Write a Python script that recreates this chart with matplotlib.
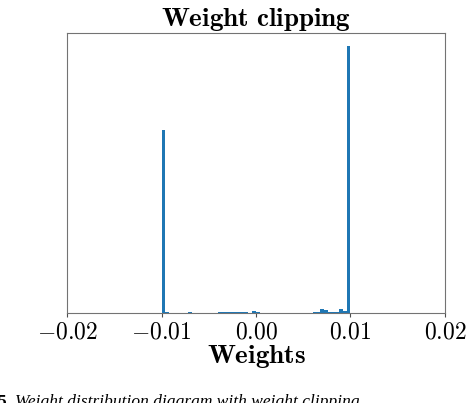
import numpy as np
import matplotlib
matplotlib.use("Agg")
import matplotlib.pyplot as plt

plt.rcParams['mathtext.fontset'] = 'cm'

# histogram of clipped weights: 50 bins on [-0.01, 0.01], counts
bin_edges = np.linspace(-0.01, 0.01, 51)
bin_counts = [685, 5, 0, 0, 0, 0, 1, 4, 1, 0,
              0, 0, 0, 0, 1, 3, 2, 3, 3, 2,
              3, 3, 2, 1, 8, 2, 0, 0, 0, 0,
              0, 0, 0, 0, 0, 0, 0, 0, 0, 1,
              2, 4, 15, 10, 5, 5, 4, 14, 6, 1000]
tick_values = [-0.02, -0.01, 0.00, 0.01, 0.02]
tick_labels = [r'$-0.02$', r'$-0.01$', r'$0.00$', r'$0.01$', r'$0.02$']

fig = plt.figure(figsize=(4.74, 4.03), dpi=100)
ax = fig.add_axes([0.1414, 0.2233, 0.7974, 0.6947])

centers = (bin_edges[:-1] + bin_edges[1:]) / 2
ax.hist(centers, bins=bin_edges, weights=bin_counts, color='#1f77b4')

ax.set_xlim(-0.02, 0.02)
ax.set_xticks(tick_values)
ax.set_xticklabels(tick_labels, fontsize=17)
ax.set_yticks([])
ax.tick_params(axis='x', length=3, pad=2, color='0.3')
for s in ax.spines.values():
    s.set_color('0.45')

ax.set_title(r'$\mathbf{Weight\ clipping}$', fontsize=19.5, pad=4)
ax.set_xlabel(r'$\mathbf{Weights}$', fontsize=19.5, labelpad=-1)

# figure caption, cut off at the bottom edge like the source
fig.text(-3 / 474, -3 / 403, '5', fontsize=12.5, weight='bold',
         family='Liberation Serif', va='baseline')
fig.text(15 / 474, -3 / 403, 'Weight distribution diagram with weight clipping',
         fontsize=12.5, style='italic', family='Liberation Serif', va='baseline')

fig.savefig('out.png', dpi=100)
